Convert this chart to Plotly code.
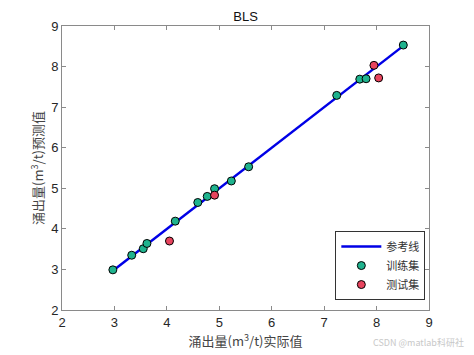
import plotly.graph_objects as go

train_actual = [2.97, 3.33, 3.55, 3.62, 4.16, 4.59, 4.77, 4.91, 5.23, 5.56, 7.24, 7.68, 7.80, 8.51]
train_pred   = [2.99, 3.35, 3.51, 3.64, 4.19, 4.65, 4.80, 4.99, 5.18, 5.53, 7.29, 7.69, 7.70, 8.53]
test_actual  = [4.05, 4.91, 7.95, 8.04]
test_pred    = [3.70, 4.83, 8.03, 7.72]
ref_line     = [2.97, 8.51]
ticks        = [2, 3, 4, 5, 6, 7, 8, 9]

fig = go.Figure()
fig.add_trace(go.Scatter(x=ref_line, y=ref_line, mode="lines", name="参考线",
                         line=dict(color="#0000e6", width=2.5)))
fig.add_trace(go.Scatter(x=train_actual, y=train_pred, mode="markers", name="训练集",
                         marker=dict(size=8, color="#1fb38e", line=dict(color="black", width=1))))
fig.add_trace(go.Scatter(x=test_actual, y=test_pred, mode="markers", name="测试集",
                         marker=dict(size=8, color="#e8445e", line=dict(color="black", width=1))))

axis_common = dict(range=[2, 9], tickvals=ticks, ticks="inside", ticklen=4, tickcolor="#8a8a8a",
                   showline=True, linecolor="#8a8a8a", linewidth=1, mirror="ticks",
                   showgrid=False, zeroline=False,
                   tickfont=dict(family="Liberation Sans, Arial", size=13, color="#262626"))

fig.update_layout(
    width=474, height=355,
    margin=dict(l=62, r=45, t=26, b=40),
    paper_bgcolor="white", plot_bgcolor="white",
    title=dict(text="BLS", x=0.518, xanchor="center", y=0.955, yanchor="middle",
               font=dict(family="Liberation Sans, Arial", size=13, color="#111")),
    xaxis=dict(**axis_common,
               title=dict(text="涌出量(m<sup>3</sup>/t)实际值", standoff=4,
                          font=dict(family="Noto Sans CJK SC", size=13, color="#444"))),
    yaxis=dict(**axis_common,
               title=dict(text="涌出量(m<sup>3</sup>/t)预测值", standoff=4,
                          font=dict(family="Noto Sans CJK SC", size=13, color="#444"))),
    legend=dict(x=0.99, y=0.035, xanchor="right", yanchor="bottom",
                bgcolor="white", bordercolor="#333", borderwidth=1,
                font=dict(family="Noto Sans CJK SC", size=11, color="#333"),
                itemwidth=40, tracegroupgap=0),
    showlegend=True,
)
fig.add_annotation(text="CSDN @matlab科研社", xref="paper", yref="paper", x=1.1, y=-0.115,
                   xanchor="right", yanchor="middle", showarrow=False,
                   font=dict(family="Noto Sans CJK SC", size=9, color="#c8c8c8"))

fig.write_html("out.html")
